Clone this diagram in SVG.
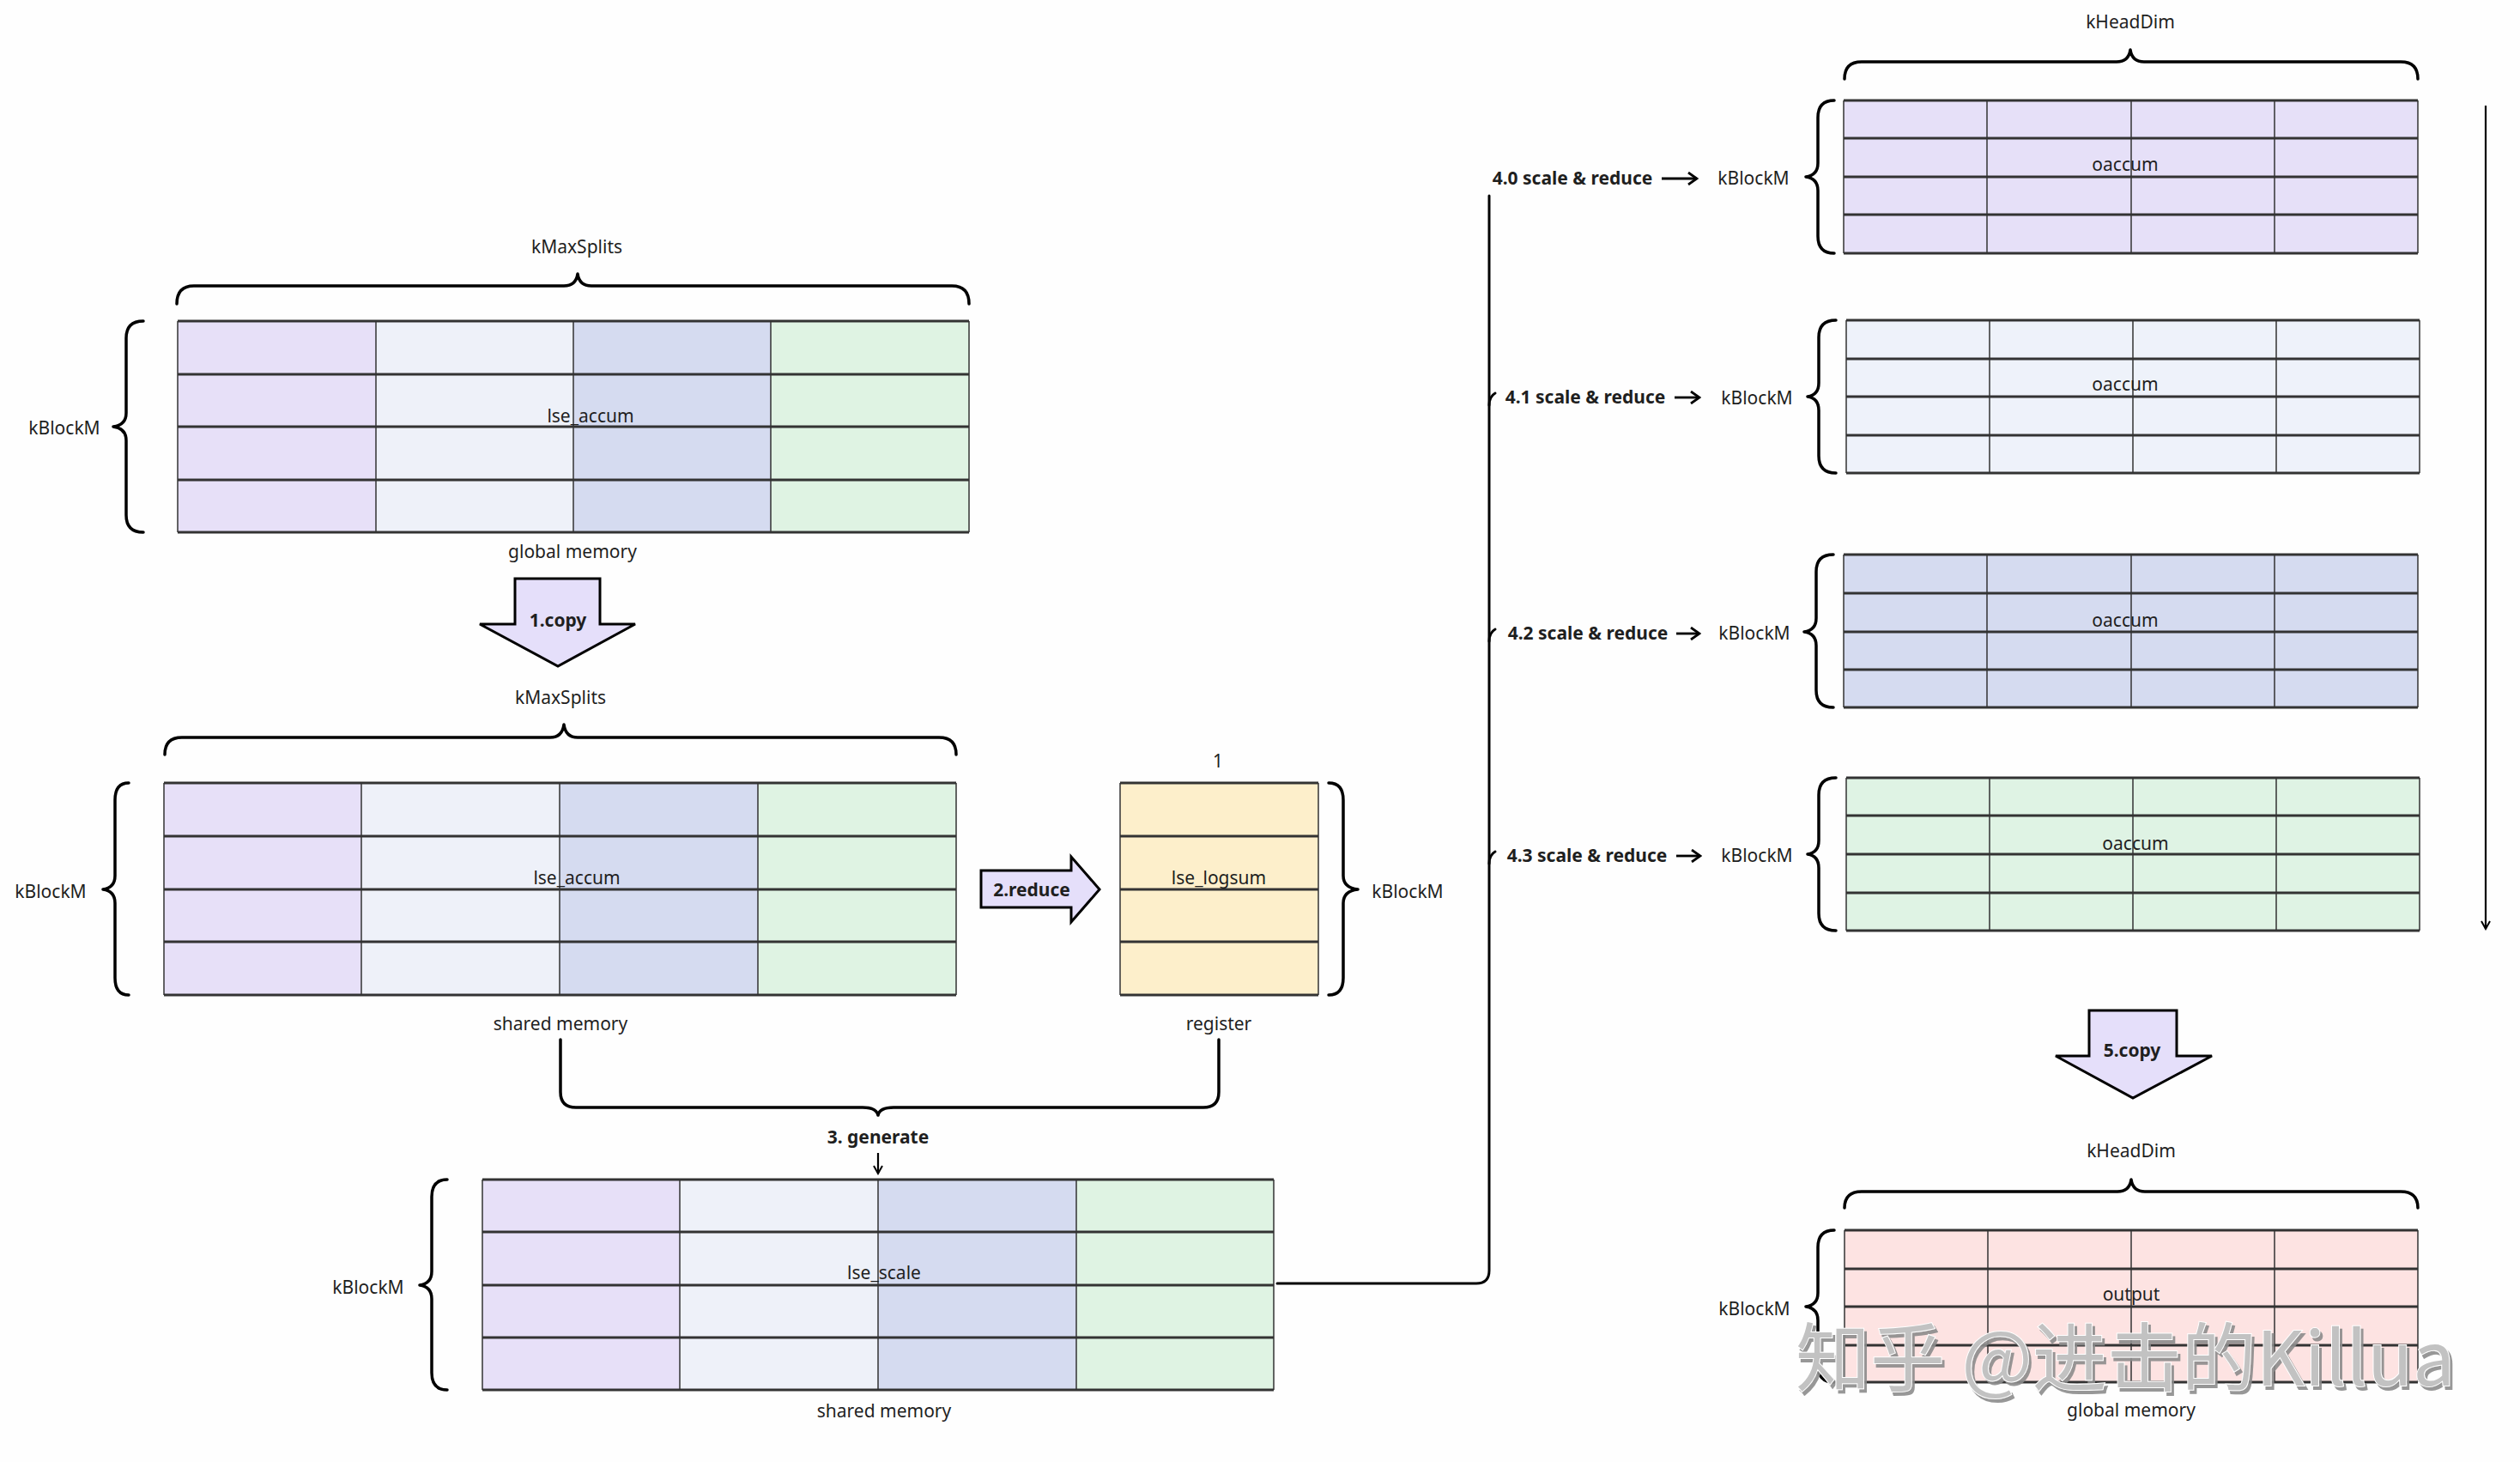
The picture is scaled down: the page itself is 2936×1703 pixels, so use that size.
<svg xmlns="http://www.w3.org/2000/svg" width="2936" height="1703" viewBox="0 0 2936 1703">
<style>
.t{font-family:"Noto Sans","Noto Sans CJK SC",sans-serif;font-size:21px;fill:#1f1f1f;text-anchor:middle;dominant-baseline:central}
.b{font-weight:bold;font-size:21px}
.brace{fill:none;stroke:#000;stroke-width:3.5;stroke-linecap:round;stroke-linejoin:round}
.hl{stroke:#333;stroke-width:3;fill:none}
.vl{stroke:#333;stroke-width:1.5;fill:none}
.big{fill:#e5dffa;stroke:#000;stroke-width:3;stroke-linejoin:miter}
.conn{fill:none;stroke:#000;stroke-width:3;stroke-linecap:round}
.thin{fill:none;stroke:#000;stroke-width:2.2}
.lbl{fill:none;stroke:#000;stroke-width:2.8}
.c1{fill:#e7e0f8}.c2{fill:#eef1f9}.c3{fill:#d5dbf0}.c4{fill:#dff3e3}
.wm{font-family:"Noto Sans CJK SC","Noto Sans",sans-serif;font-size:87px;fill:#c2c2c2;stroke:#ffffff;stroke-width:2;paint-order:stroke}
</style>
<defs>
<marker id="open" viewBox="0 0 12 12" refX="10" refY="6" markerWidth="12" markerHeight="12" markerUnits="userSpaceOnUse" orient="auto">
<path d="M1,1 L10,6 L1,11" fill="none" stroke="#000" stroke-width="2"/>
</marker>
<marker id="open2" viewBox="0 0 14 16" refX="12" refY="8" markerWidth="14" markerHeight="16" markerUnits="userSpaceOnUse" orient="auto">
<path d="M2,1 L12,8 L2,15" fill="none" stroke="#000" stroke-width="2.8"/>
</marker>
<filter id="sh" x="-5%" y="-20%" width="110%" height="140%">
<feDropShadow dx="3" dy="4" stdDeviation="0.5" flood-color="#8c8c8c" flood-opacity="0.9"/>
</filter>
</defs>
<rect width="2936" height="1703" fill="#fefefe"/>

<!-- connectors -->
<g id="connectors">
<path class="conn" d="M1735,228 V1480 Q1735,1495 1720,1495 H1488"/>
<path class="conn" d="M1735,472 Q1735,462 1742,458"/>
<path class="conn" d="M1735,747 Q1735,737 1742,733"/>
<path class="conn" d="M1735,1006 Q1735,996 1742,992"/>
<path class="thin" d="M2896,123 V1082" marker-end="url(#open)"/>
<path class="lbl" d="M1936,208 H1977" marker-end="url(#open2)"/>
<path class="lbl" d="M1951,463 H1980" marker-end="url(#open2)"/>
<path class="lbl" d="M1953,738 H1980" marker-end="url(#open2)"/>
<path class="lbl" d="M1953,997 H1981" marker-end="url(#open2)"/>
<path class="thin" d="M1023,1343 V1367" marker-end="url(#open)"/>
<path class="brace" d="M653,1211 L653,1272 Q653,1290 671,1290 L1005,1290 Q1021,1290 1023,1299 Q1025,1290 1041,1290 L1402,1290 Q1420,1290 1420,1272 L1420,1211"/>
<text class="t b" x="1023" y="1324">3. generate</text>
</g>

<!-- step arrows -->
<g id="step-1-copy">
<polygon class="big" points="600,674 699,674 699,727 740,727 650,776 559,727 600,727"/>
<text class="t b" x="650" y="722">1.copy</text>
</g>
<g id="step-2-reduce">
<polygon class="big" points="1143,1014 1248,1014 1248,998 1281,1036 1248,1074 1248,1057 1143,1057"/>
<text class="t b" x="1202" y="1036">2.reduce</text>
</g>
<g id="step-5-copy">
<polygon class="big" points="2434,1177 2536,1177 2536,1230 2577,1230 2485,1279 2395,1230 2434,1230"/>
<text class="t b" x="2484" y="1223">5.copy</text>
</g>

<!-- lse_accum global -->
<g id="lse-accum-global">
<rect class="c1" x="207" y="374" width="231" height="246"/>
<rect class="c2" x="438" y="374" width="230" height="246"/>
<rect class="c3" x="668" y="374" width="230" height="246"/>
<rect class="c4" x="898" y="374" width="231" height="246"/>
<path class="hl" d="M207,374H1129M207,436H1129M207,497H1129M207,559H1129M207,620H1129"/>
<path class="vl" d="M207,374V620M438,374V620M668,374V620M898,374V620M1129,374V620"/>
<path class="brace" d="M206,354 Q206,333 226,333 L657,333 Q671,333 673,319 Q675,333 689,333 L1109,333 Q1129,333 1129,354"/>
<path class="brace" d="M167,374 Q147,374 147,394 L147,481 Q147,495 132,497 Q147,499 147,513 L147,600 Q147,620 167,620"/>
<text class="t" x="672" y="287">kMaxSplits</text>
<text class="t" x="75" y="498">kBlockM</text>
<text class="t" x="688" y="484">lse_accum</text>
<text class="t" x="667" y="642">global memory</text>
</g>

<!-- lse_accum shared -->
<g id="lse-accum-shared">
<rect class="c1" x="191" y="912" width="230" height="247"/>
<rect class="c2" x="421" y="912" width="231" height="247"/>
<rect class="c3" x="652" y="912" width="231" height="247"/>
<rect class="c4" x="883" y="912" width="231" height="247"/>
<path class="hl" d="M191,912H1114M191,974H1114M191,1036H1114M191,1097H1114M191,1159H1114"/>
<path class="vl" d="M191,912V1159M421,912V1159M652,912V1159M883,912V1159M1114,912V1159"/>
<path class="brace" d="M192,879 Q192,859 212,859 L641,859 Q655,859 657,844 Q659,859 673,859 L1094,859 Q1114,859 1114,879"/>
<path class="brace" d="M150,912 Q134,912 134,932 L134,1020 Q134,1034 120,1036 Q134,1038 134,1052 L134,1139 Q134,1159 150,1159"/>
<text class="t" x="653" y="812">kMaxSplits</text>
<text class="t" x="59" y="1038">kBlockM</text>
<text class="t" x="672" y="1022">lse_accum</text>
<text class="t" x="653" y="1192">shared memory</text>
</g>

<!-- register -->
<g id="lse-logsum-register">
<rect x="1305" y="912" width="231" height="247" fill="#fdefcb"/>
<path class="hl" d="M1305,912H1536M1305,974H1536M1305,1036H1536M1305,1097H1536M1305,1159H1536"/>
<path class="vl" d="M1305,912V1159M1536,912V1159"/>
<path class="brace" d="M1548,912 Q1565,912 1565,932 L1565,1020 Q1565,1034 1582,1036 Q1565,1038 1565,1052 L1565,1139 Q1565,1159 1548,1159"/>
<text class="t" x="1419" y="886">1</text>
<text class="t" x="1420" y="1022">lse_logsum</text>
<text class="t" x="1640" y="1038">kBlockM</text>
<text class="t" x="1420" y="1192">register</text>
</g>

<!-- lse_scale -->
<g id="lse-scale-shared">
<rect class="c1" x="562" y="1374" width="230" height="245"/>
<rect class="c2" x="792" y="1374" width="231" height="245"/>
<rect class="c3" x="1023" y="1374" width="231" height="245"/>
<rect class="c4" x="1254" y="1374" width="230" height="245"/>
<path class="hl" d="M562,1374H1484M562,1435H1484M562,1497H1484M562,1558H1484M562,1619H1484"/>
<path class="vl" d="M562,1374V1619M792,1374V1619M1023,1374V1619M1254,1374V1619M1484,1374V1619"/>
<path class="brace" d="M521,1374 Q503,1374 503,1394 L503,1481 Q503,1495 489,1497 Q503,1499 503,1513 L503,1599 Q503,1619 521,1619"/>
<text class="t" x="429" y="1499">kBlockM</text>
<text class="t" x="1030" y="1482">lse_scale</text>
<text class="t" x="1030" y="1643">shared memory</text>
</g>

<!-- oaccum 4.0 -->
<g id="oaccum-0">
<rect x="2148" y="117" width="669" height="178" fill="#e6e0f8"/>
<path class="hl" d="M2148,117H2817M2148,161H2817M2148,206H2817M2148,250H2817M2148,295H2817"/>
<path class="vl" d="M2148,117V295M2315,117V295M2483,117V295M2650,117V295M2817,117V295"/>
<path class="brace" d="M2149,92 Q2149,72 2169,72 L2466,72 Q2480,72 2482,58 Q2484,72 2498,72 L2797,72 Q2817,72 2817,92"/>
<path class="brace" d="M2137,117 Q2118,117 2118,137 L2118,190 Q2118,204 2104,206 Q2118,208 2118,222 L2118,275 Q2118,295 2137,295"/>
<text class="t" x="2482" y="25">kHeadDim</text>
<text class="t b" x="1832" y="207">4.0 scale &amp; reduce</text>
<text class="t" x="2043" y="207">kBlockM</text>
<text class="t" x="2476" y="191">oaccum</text>
</g>

<!-- oaccum 4.1 -->
<g id="oaccum-1">
<rect x="2151" y="373" width="668" height="178" fill="#eef2fa"/>
<path class="hl" d="M2151,373H2819M2151,418H2819M2151,462H2819M2151,507H2819M2151,551H2819"/>
<path class="vl" d="M2151,373V551M2318,373V551M2485,373V551M2652,373V551M2819,373V551"/>
<path class="brace" d="M2139,373 Q2119,373 2119,393 L2119,446 Q2119,460 2106,462 Q2119,464 2119,478 L2119,531 Q2119,551 2139,551"/>
<text class="t b" x="1847" y="462">4.1 scale &amp; reduce</text>
<text class="t" x="2047" y="463">kBlockM</text>
<text class="t" x="2476" y="447">oaccum</text>
</g>

<!-- oaccum 4.2 -->
<g id="oaccum-2">
<rect x="2148" y="646" width="669" height="178" fill="#d5dbf0"/>
<path class="hl" d="M2148,646H2817M2148,691H2817M2148,736H2817M2148,780H2817M2148,824H2817"/>
<path class="vl" d="M2148,646V824M2315,646V824M2483,646V824M2650,646V824M2817,646V824"/>
<path class="brace" d="M2136,646 Q2116,646 2116,666 L2116,720 Q2116,734 2102,736 Q2116,738 2116,752 L2116,804 Q2116,824 2136,824"/>
<text class="t b" x="1850" y="737">4.2 scale &amp; reduce</text>
<text class="t" x="2044" y="737">kBlockM</text>
<text class="t" x="2476" y="722">oaccum</text>
</g>

<!-- oaccum 4.3 -->
<g id="oaccum-3">
<rect x="2151" y="906" width="668" height="178" fill="#dff3e4"/>
<path class="hl" d="M2151,906H2819M2151,950H2819M2151,995H2819M2151,1040H2819M2151,1084H2819"/>
<path class="vl" d="M2151,906V1084M2318,906V1084M2485,906V1084M2652,906V1084M2819,906V1084"/>
<path class="brace" d="M2139,906 Q2119,906 2119,926 L2119,979 Q2119,993 2106,995 Q2119,997 2119,1011 L2119,1064 Q2119,1084 2139,1084"/>
<text class="t b" x="1849" y="996">4.3 scale &amp; reduce</text>
<text class="t" x="2047" y="996">kBlockM</text>
<text class="t" x="2488" y="982">oaccum</text>
</g>

<!-- output -->
<g id="output-global">
<rect x="2149" y="1433" width="668" height="177" fill="#fde3e2"/>
<path class="hl" d="M2149,1433H2817M2149,1478H2817M2149,1522H2817M2149,1567H2817M2149,1610H2817"/>
<path class="vl" d="M2149,1433V1610M2316,1433V1610M2483,1433V1610M2650,1433V1610M2817,1433V1610"/>
<path class="brace" d="M2149,1407 Q2149,1388 2169,1388 L2467,1388 Q2481,1388 2483,1374 Q2485,1388 2499,1388 L2797,1388 Q2817,1388 2817,1407"/>
<path class="brace" d="M2137,1433 Q2118,1433 2118,1453 L2118,1506 Q2118,1520 2104,1522 Q2118,1524 2118,1538 L2118,1590 Q2118,1610 2137,1610"/>
<text class="t" x="2483" y="1340">kHeadDim</text>
<text class="t" x="2044" y="1524">kBlockM</text>
<text class="t" x="2483" y="1507">output</text>
<text class="t" x="2483" y="1642">global memory</text>
</g>

<text class="wm" x="2092" y="1614" filter="url(#sh)">知乎 @进击的Killua</text>
</svg>
